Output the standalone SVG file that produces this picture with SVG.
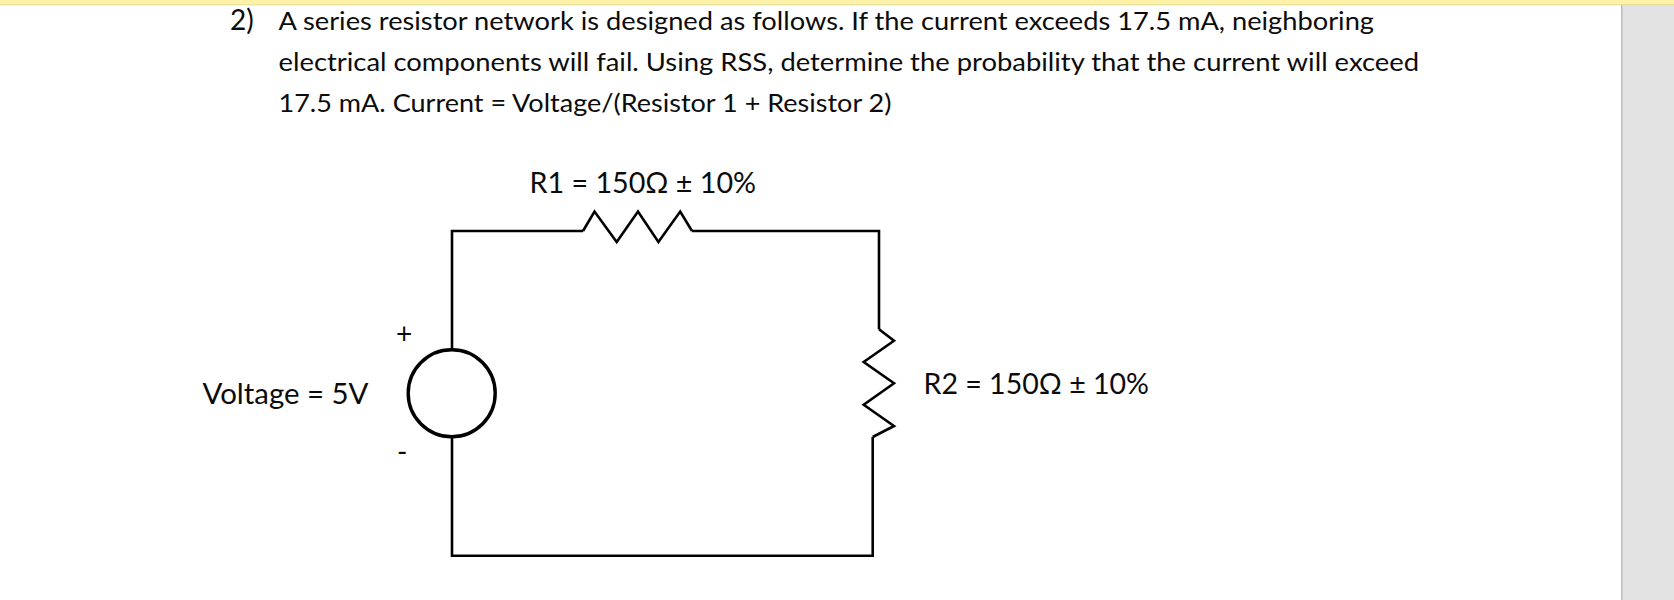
<svg xmlns="http://www.w3.org/2000/svg" width="1674" height="600" viewBox="0 0 1674 600">
<style>
text{font-family:"Lato","Liberation Sans",sans-serif;font-size:25px;fill:#0c0c0c}
.label{font-size:28px}
.w{fill:none;stroke:#000;stroke-width:2.6;stroke-linejoin:miter}
</style>
<rect width="1674" height="600" fill="#fff"/>
<rect x="1621" y="0" width="53" height="600" fill="#e3e3e3"/>
<rect x="1621" y="0" width="1.5" height="600" fill="#bdbdbd"/>
<rect width="1674" height="4.2" fill="#fff2a8"/>
<rect y="4.2" width="1674" height="1.2" fill="#e6e08a"/>
<g id="question">
<text x="230" y="30" class="label">2)</text>
<text x="278.5" y="30" textLength="1095.5" lengthAdjust="spacingAndGlyphs">A series resistor network is designed as follows. If the current exceeds 17.5 mA, neighboring</text>
<text x="278.5" y="71" textLength="1140.5" lengthAdjust="spacingAndGlyphs">electrical components will fail. Using RSS, determine the probability that the current will exceed</text>
<text x="278.5" y="112" textLength="613" lengthAdjust="spacingAndGlyphs">17.5 mA. Current = Voltage/(Resistor 1 + Resistor 2)</text>
</g>
<g id="connectors">
<path class="w" d="M452 349V231H583"/>
<path class="w" d="M692 231H879V329.3"/>
<path class="w" d="M872.7 437V555.7H452V437"/>
</g>
<g id="r1">
<path class="w" d="M583 231L594.5 211.5 616.7 242 638 211.5 658.4 242 680.2 211.5 692 231"/>
<text class="label" x="529.5" y="193" textLength="226.5" lengthAdjust="spacingAndGlyphs">R1 = 150Ω ± 10%</text>
</g>
<g id="r2">
<path class="w" d="M879 329.3L894 340.7 863.7 362 894 383.3 863.7 404.7 894 426 872.7 437"/>
<text class="label" x="923.5" y="394" textLength="225.5" lengthAdjust="spacingAndGlyphs">R2 = 150Ω ± 10%</text>
</g>
<g id="source">
<circle cx="451.7" cy="393.3" r="43.5" fill="#fff" stroke="#000" stroke-width="3.4"/>
<text class="label" x="202.5" y="404" textLength="166" lengthAdjust="spacingAndGlyphs">Voltage = 5V</text>
<text class="label" x="396" y="344">+</text>
<text class="label" x="397" y="462">-</text>
</g>
</svg>
